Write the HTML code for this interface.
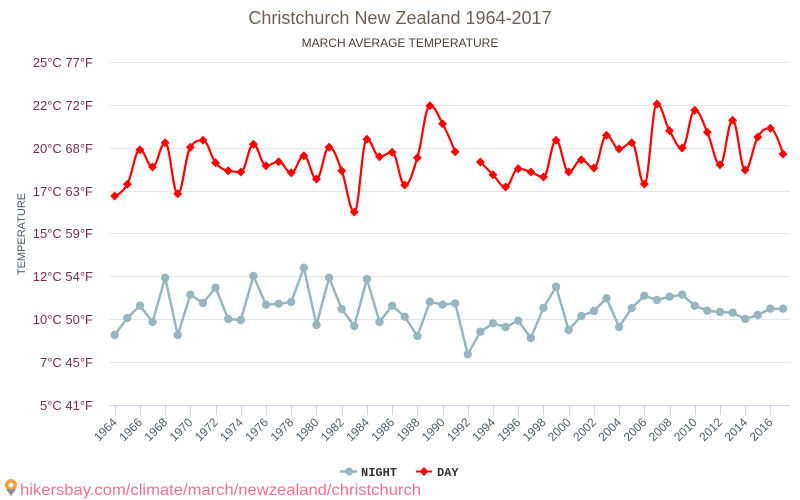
<!DOCTYPE html>
<html><head><meta charset="utf-8"><style>
html,body{margin:0;padding:0;background:#fff;}
svg{display:block;font-family:"Liberation Sans",sans-serif;}
</style></head><body>
<svg id="c" width="800" height="500" viewBox="0 0 800 500" xmlns="http://www.w3.org/2000/svg">
<rect width="800" height="500" fill="#fff"/>
<text x="400" y="24" text-anchor="middle" font-size="18" fill="#6d6157">Christchurch New Zealand 1964-2017</text>
<text x="400" y="47" text-anchor="middle" font-size="12" fill="#4b4038">MARCH AVERAGE TEMPERATURE</text>
<g stroke="#e6e6e6" stroke-width="1">
<line x1="109" x2="790" y1="62.5" y2="62.5"/>
<line x1="109" x2="790" y1="105.5" y2="105.5"/>
<line x1="109" x2="790" y1="148.5" y2="148.5"/>
<line x1="109" x2="790" y1="191.5" y2="191.5"/>
<line x1="109" x2="790" y1="233.5" y2="233.5"/>
<line x1="109" x2="790" y1="276.5" y2="276.5"/>
<line x1="109" x2="790" y1="319.5" y2="319.5"/>
<line x1="109" x2="790" y1="362.5" y2="362.5"/>
</g>
<line x1="109" x2="790" y1="405.5" y2="405.5" stroke="#ccd6eb" stroke-width="1"/>
<g font-size="13" fill="#7b3048" text-anchor="end">
<text x="93" y="67">25°C 77°F</text>
<text x="93" y="110">22°C 72°F</text>
<text x="93" y="153">20°C 68°F</text>
<text x="93" y="196">17°C 63°F</text>
<text x="93" y="238">15°C 59°F</text>
<text x="93" y="281">12°C 54°F</text>
<text x="93" y="324">10°C 50°F</text>
<text x="93" y="367">7°C 45°F</text>
<text x="93" y="410">5°C 41°F</text>
</g>
<text transform="translate(25,234) rotate(-90)" text-anchor="middle" font-size="11" fill="#4d5b69">TEMPERATURE</text>
<g id="ticks" stroke="#ccd6eb" stroke-width="1"></g>
<g id="xl" font-size="12" fill="#4e5d6c" text-anchor="end"></g>
<g id="series"></g>
<g>
<line x1="340" x2="357" y1="471.5" y2="471.5" stroke="#97b6bf" stroke-width="2.5"/>
<circle cx="349" cy="471.5" r="4" fill="#97b6bf"/>
<text x="361" y="476" font-family="Liberation Mono, monospace" font-weight="bold" font-size="12" fill="#333">NIGHT</text>
<line x1="416" x2="432" y1="471.5" y2="471.5" stroke="#ff0000" stroke-width="2"/>
<path d="M424 467 L428.5 471.5 L424 476 L419.5 471.5Z" fill="#ff0000"/>
<text x="437" y="476" font-family="Liberation Mono, monospace" font-weight="bold" font-size="12" fill="#333">DAY</text>
</g>
<g>
<path d="M11 496 C8 491 5 488 5 485 A6 6 0 0 1 17 485 C17 488 14 491 11 496Z" fill="#f2a23a"/>
<path d="M11 496 C9 493 7 491 6.2 489 L15.8 489 C15 491 13 493 11 496Z" fill="#8a8f96"/>
<circle cx="11" cy="485" r="2.3" fill="#fff"/>
<text x="20" y="495" font-size="16" fill="#f7718f" textLength="401" lengthAdjust="spacingAndGlyphs">hikersbay.com/climate/march/newzealand/christchurch</text>
</g>
</svg>
<script>
(function(){
var NS="http://www.w3.org/2000/svg";
var x0=114.7, st=12.61;
var day=[196,184.3,149.7,167,142.7,193.7,147.3,140.3,162.7,170.7,172,144.3,165.7,161.7,172.7,155.7,179,147.3,170.7,212,139.3,156.7,152.3,185,157.7,105.7,123.7,151.7,null,162,174.7,187,168.7,172,177,140.3,172,159.7,168,135.3,149,142.7,184,104,130.7,148,110.3,132.3,164.7,120.3,170,137,128.3,154];
var night=[335,318,305.7,322,277.7,335,294.7,303,287.7,319,320,276,304.7,303.7,302,267.7,325,277.7,309,326,279,322,305.7,316.7,336,301.7,304.7,303.3,354.3,331.7,323.3,327,320.7,338,308,286.7,330,316,311,298.3,327,308,295.7,300,296.7,294.7,305.7,310.7,312,312.7,319,315,308.7,308.7];
function el(n,a,p){var e=document.createElementNS(NS,n);for(var k in a)e.setAttribute(k,a[k]);p.appendChild(e);return e;}
var ticks=document.getElementById('ticks'), xl=document.getElementById('xl'), ser=document.getElementById('series');
for(var i=0;i<54;i+=2){
 var x=x0+i*st; var tx=Math.round(x)+0.5;
 el('line',{x1:tx,x2:tx,y1:405,y2:415},ticks);
 var t=el('text',{transform:'translate('+(x+3)+',423) rotate(-45)'},xl);
 t.textContent=String(1964+i);
}
// night line
var d='';
for(var i=0;i<night.length;i++){d+=(i?'L':'M')+(x0+i*st).toFixed(2)+' '+night[i]+' ';}
el('path',{d:d,fill:'none',stroke:'#97b6bf','stroke-width':2.5,'stroke-linejoin':'round'},ser);
for(var i=0;i<night.length;i++){el('circle',{cx:x0+i*st,cy:night[i],r:4.2,fill:'#97b6bf'},ser);}
// day spline (Highcharts algorithm)
var segs=[],cur=[];
for(var i=0;i<day.length;i++){if(day[i]===null){if(cur.length)segs.push(cur);cur=[];}else cur.push({x:x0+i*st,y:day[i]});}
if(cur.length)segs.push(cur);
var sm=1.5,den=2.5;
segs.forEach(function(s){
 for(var i=0;i<s.length;i++){
  var p=s[i];
  if(i>0&&i<s.length-1){
   var l=s[i-1],n=s[i+1];
   var lcx=(sm*p.x+l.x)/den,lcy=(sm*p.y+l.y)/den,rcx=(sm*p.x+n.x)/den,rcy=(sm*p.y+n.y)/den;
   if(rcx!==lcx){var c=((rcy-lcy)*(rcx-p.x))/(rcx-lcx)+p.y-rcy;lcy+=c;rcy+=c;}
   if(lcy>l.y&&lcy>p.y){lcy=Math.max(l.y,p.y);rcy=2*p.y-lcy;}
   else if(lcy<l.y&&lcy<p.y){lcy=Math.min(l.y,p.y);rcy=2*p.y-lcy;}
   if(rcy>n.y&&rcy>p.y){rcy=Math.max(n.y,p.y);lcy=2*p.y-rcy;}
   else if(rcy<n.y&&rcy<p.y){rcy=Math.min(n.y,p.y);lcy=2*p.y-rcy;}
   p.lcx=lcx;p.lcy=lcy;p.rcx=rcx;p.rcy=rcy;
  }
 }
 var d='M'+s[0].x.toFixed(2)+' '+s[0].y;
 for(var i=1;i<s.length;i++){
  var a=s[i-1],p=s[i];
  d+=' C'+(a.rcx!==undefined?a.rcx:a.x).toFixed(2)+' '+(a.rcy!==undefined?a.rcy:a.y).toFixed(2)+' '+(p.lcx!==undefined?p.lcx:p.x).toFixed(2)+' '+(p.lcy!==undefined?p.lcy:p.y).toFixed(2)+' '+p.x.toFixed(2)+' '+p.y;
 }
 el('path',{d:d,fill:'none',stroke:'#ff0000','stroke-width':2.2,'stroke-linejoin':'round'},ser);
 s.forEach(function(p){
  el('path',{d:'M'+p.x+' '+(p.y-4.5)+' L'+(p.x+4.5)+' '+p.y+' L'+p.x+' '+(p.y+4.5)+' L'+(p.x-4.5)+' '+p.y+'Z',fill:'#ff0000'},ser);
 });
});
})();
</script>
</body></html>
